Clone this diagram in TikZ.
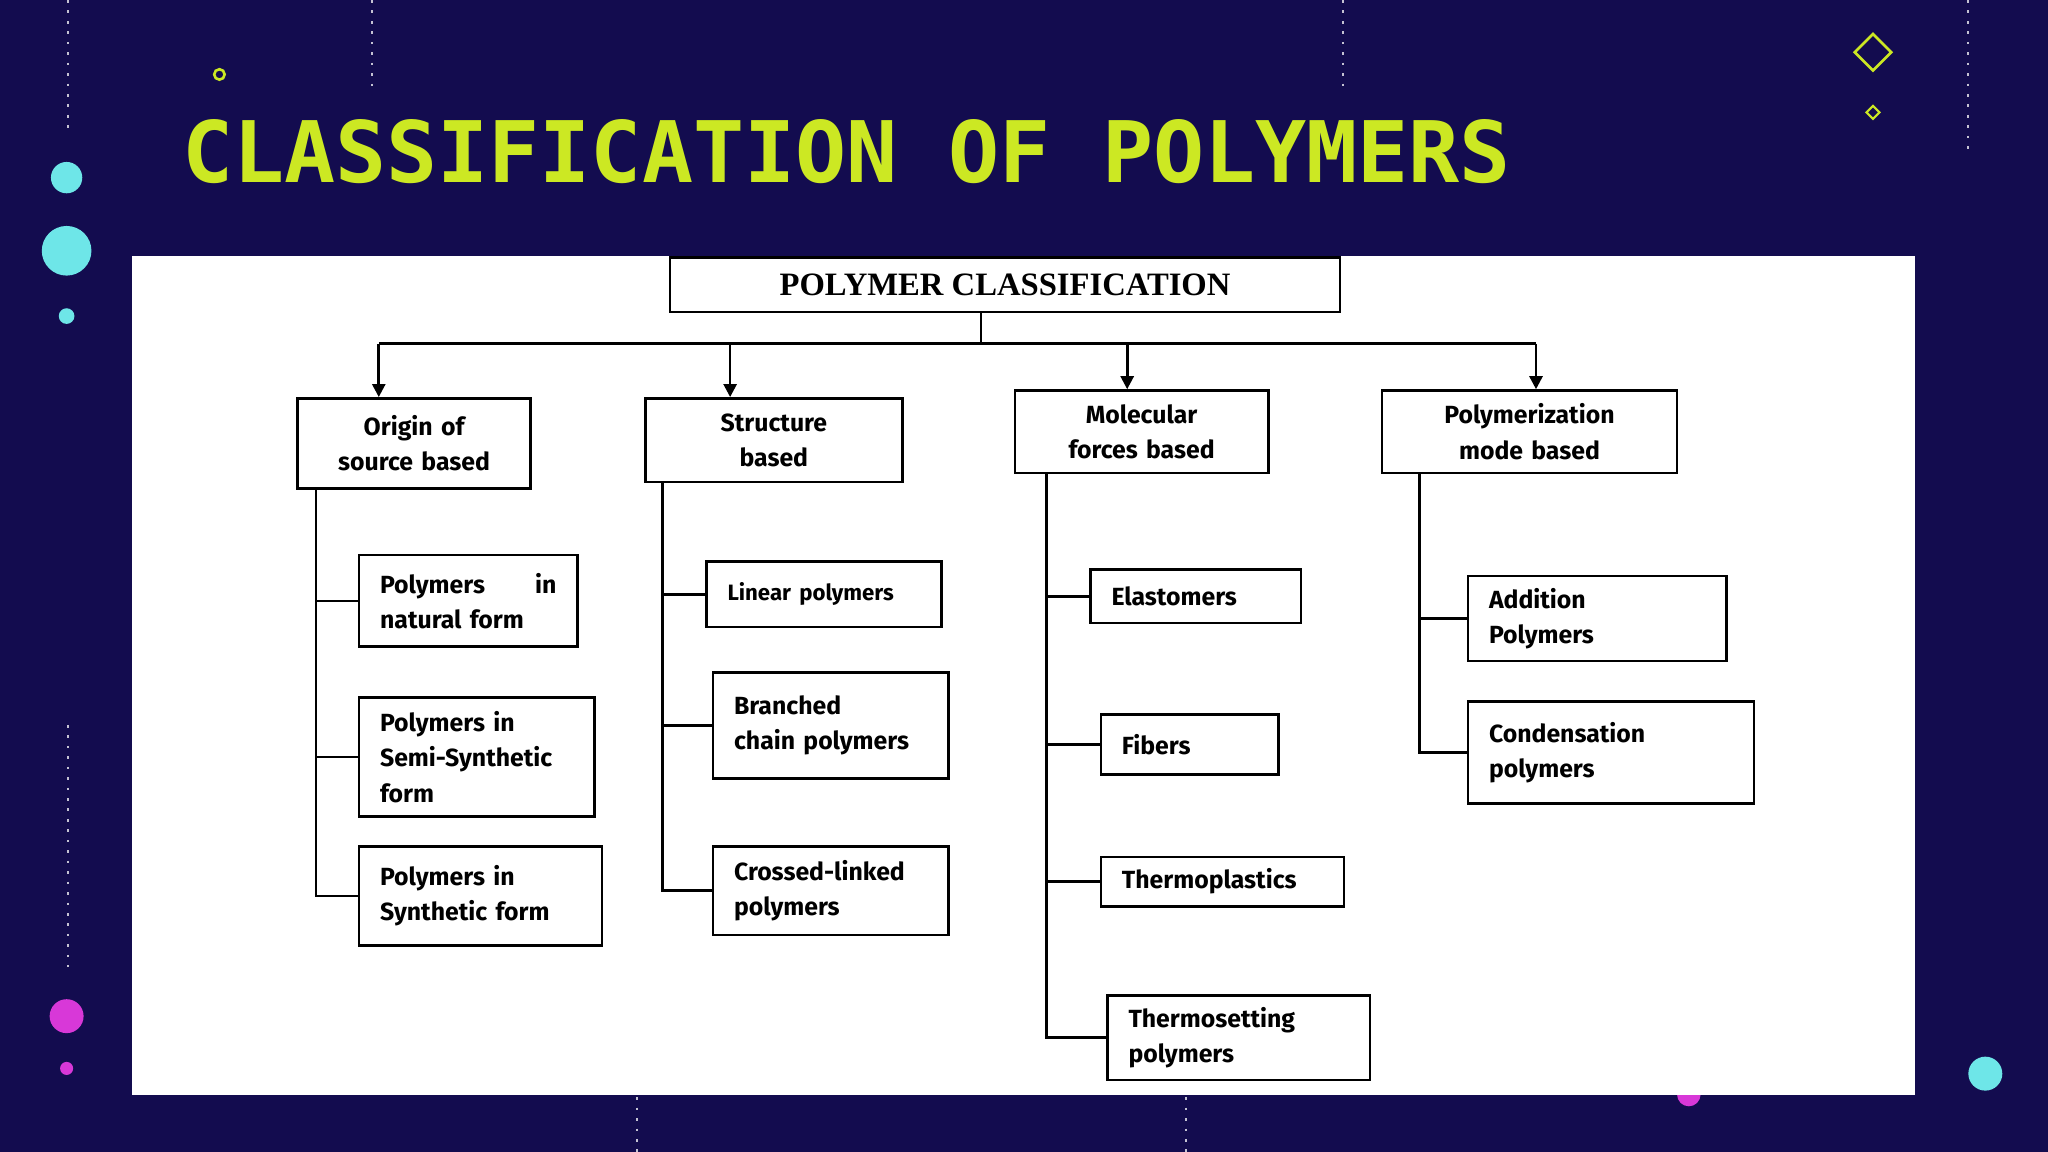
\documentclass[tikz,border=0pt]{standalone}
\usepackage{fontspec}
\setmainfont{Fira Sans}
\newfontfamily\titlefont{DejaVu Sans Mono}
\newfontfamily\headfont{Liberation Serif}
\usetikzlibrary{arrows.meta}
\definecolor{bg}{HTML}{130C4F}
\definecolor{lime}{HTML}{CCE823}
\definecolor{cyanc}{HTML}{6EE6E8}
\definecolor{magc}{HTML}{D838D8}
\newcommand{\bx}[7]{%
  \pgfmathsetmacro{\bw}{(#4-#2)*0.5}\pgfmathsetmacro{\bh}{(#5-#3)*0.5}%
  \node[box,minimum width=\bw pt,minimum height=\bh pt,text width=\bw pt-16pt,align=#6] (#1) at ({(#2+#4)/2},{(#3+#5)/2}) {#7};}
\begin{document}
\begin{tikzpicture}[x=0.5pt,y=-0.5pt,
  box/.style={draw=black,line width=1pt,inner sep=0pt,font=\fontsize{9.5}{13.5}\selectfont\bfseries},
  ln/.style={black,line width=1pt},
  dots/.style={white!75!bg,line width=0.8pt,dash pattern=on 1pt off 3pt}]
\fill[bg] (0,0) rectangle (1568,882);
\useasboundingbox (0,0) rectangle (1568,882);
% decorations
\foreach \x/\a/\b in {52/0/100,285/0/70,1028/0/70,1507/0/115,52/555/740,488/840/882,908/840/882}
  \draw[dots] (\x,\a) -- (\x,\b);
\draw[lime,line width=1pt] (168,57) circle (4);
\fill[cyanc] (51,136) circle (12) (51,192) circle (19) (51,242) circle (6) (1520,822) circle (13);
\fill[magc] (51,778) circle (13) (51,818) circle (5) (1293,838) circle (9);
\draw[lime,line width=1pt] (1434,26) -- (1448,40) -- (1434,54) -- (1420,40) -- cycle;
\draw[lime,line width=0.8pt] (1434,81) -- (1439,86) -- (1434,91) -- (1429,86) -- cycle;
\node[anchor=west,inner sep=0pt,text=lime,font=\titlefont\bfseries\fontsize{32.5}{34}\selectfont] (title) at (139,116) {CLASSIFICATION OF POLYMERS};
% panel
\fill[white] (101,196) rectangle (1466,838);
\node[box,minimum width=256.5pt,minimum height=21pt,font=\headfont\fontsize{12.5}{13}\selectfont\bfseries] (head) at (769.5,218) {POLYMER CLASSIFICATION};
\bx{origin}{228}{305}{406}{374}{center}{Origin of\\source based}
\bx{struct}{494}{305}{691}{369}{center}{Structure\\based}
\bx{molec}{777}{299}{971}{362}{center}{Molecular\\forces based}
\bx{polym}{1058}{299}{1284}{362}{center}{Polymerization\\mode based}
\bx{natural}{275}{425}{442}{495}{left}{Polymers\hfill in\\natural form}
\bx{semi}{275}{534}{455}{625}{left}{Polymers in\\Semi-Synthetic\\form}
\bx{synth}{275}{648}{461}{724}{left}{Polymers in\\Synthetic form}
\bx{linear}{541}{430}{721}{480}{left}{\fontsize{8.5}{12}\selectfont Linear polymers}
\bx{branch}{546}{515}{726}{596}{left}{Branched\\chain polymers}
\bx{cross}{546}{648}{726}{716}{left}{Crossed-linked\\polymers}
\bx{elast}{835}{436}{996}{477}{left}{Elastomers}
\bx{fiber}{843}{547}{979}{593}{left}{Fibers}
\bx{tplast}{843}{656}{1029}{694}{left}{Thermoplastics}
\bx{tset}{848}{762}{1049}{827}{left}{Thermosetting\\polymers}
\bx{add}{1124}{441}{1322}{506}{left}{Addition\\Polymers}
\bx{cond}{1124}{537}{1343}{615}{left}{Condensation\\polymers}
% top connectors
\coordinate (hb) at (751,263);
\draw[ln] (head.south -| hb) -- (hb);
\draw[ln] (290,263) -- (1176,263);
\foreach \n/\x in {origin/290,struct/559,molec/863,polym/1176}
  \draw[ln,-{Triangle[length=5pt,width=5pt]}] (\x,263) -- (\x,0 |- \n.north);
% branches
\coordinate (o) at (242,374);
\draw[ln] (o |- origin.south) |- (synth.west);
\draw[ln] (o |- natural.west) -- (natural.west);
\draw[ln] (o |- semi.west) -- (semi.west);
\coordinate (s) at (507,369);
\draw[ln] (s |- struct.south) |- (cross.west);
\draw[ln] (s |- linear.west) -- (linear.west);
\draw[ln] (s |- branch.west) -- (branch.west);
\coordinate (m) at (801,362);
\draw[ln] (m |- molec.south) |- (tset.west);
\draw[ln] (m |- elast.west) -- (elast.west);
\draw[ln] (m |- fiber.west) -- (fiber.west);
\draw[ln] (m |- tplast.west) -- (tplast.west);
\coordinate (p) at (1087,362);
\draw[ln] (p |- polym.south) |- (cond.west);
\draw[ln] (p |- add.west) -- (add.west);
\end{tikzpicture}
\end{document}
